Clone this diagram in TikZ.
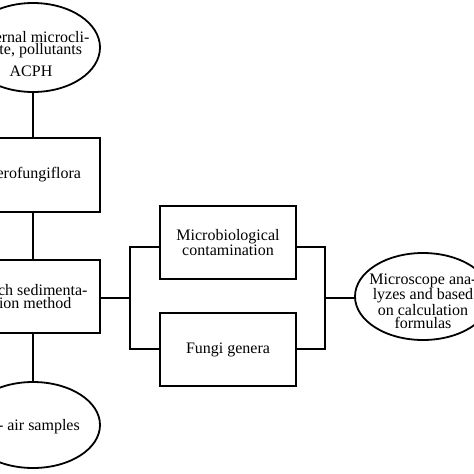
\documentclass[tikz,border=0pt]{standalone}
\usepackage{fontspec}
\setmainfont{Liberation Serif}
\usetikzlibrary{shapes.geometric}
\begin{document}
\begin{tikzpicture}[x=1pt,y=-1pt,
  conn/.style={line width=1.8pt, line cap=rect},
  boxnode/.style={draw, line width=1.8pt, rectangle, inner sep=0pt, align=center,
     font=\fontsize{16}{12.5}\selectfont},
  ellnode/.style={draw, line width=1.8pt, ellipse, inner sep=0pt, align=center,
     font=\fontsize{16}{12.5}\selectfont},
  txt/.style={inner sep=0pt, align=center, font=\fontsize{16}{12.5}\selectfont}]
\useasboundingbox (0,0) rectangle (474,474);
\clip (0,0) rectangle (474,474);
\fill[white] (0,0) rectangle (474,474);
% left column
\node[ellnode, minimum width=134pt, minimum height=89pt] (e1) at (33,47.5) {};
\node[txt] (t1) at (31,54) {External microcli-\\mate, pollutants\\[7pt]ACPH};
\node[boxnode, minimum width=134pt, minimum height=74pt] (b1) at (33,175) {Aerofungiflora};
\node[boxnode, minimum width=134pt, minimum height=73pt] (b2) at (33,296.5) {Koch sedimenta-\\tion method};
\node[ellnode, minimum width=134pt, minimum height=86pt] (e2) at (33,425) {};
\node[txt, anchor=east] (t2) at (80,427) {- air samples};
% middle column
\node[boxnode, minimum width=136pt, minimum height=73pt] (mc) at (228,242.5) {Microbiological\\contamination};
\node[boxnode, minimum width=136pt, minimum height=73pt] (fg) at (228,349.5) {Fungi genera};
% right ellipse
\node[ellnode, minimum width=136pt, minimum height=87pt] (e3) at (423,296.5) {};
\node[txt] (t3) at (423,301) {Microscope ana-\\lyzes and based\\on calculation\\formulas};
% junctions
\coordinate (jl) at (130,298);
\coordinate (jlt) at (130,247);
\coordinate (jlb) at (130,349);
\coordinate (jr) at (325,298);
\coordinate (jrt) at (325,247);
\coordinate (jrb) at (325,349);
% connectors
\draw[conn] (e1.south) -- (b1.north);
\draw[conn] (b1.south) -- (b2.north);
\draw[conn] (b2.south) -- (e2.north);
\draw[conn] (b2.east |- jl) -- (jl);
\draw[conn, line cap=butt] (mc.west |- jlt) -- (jlt) -- (jlb) -- (fg.west |- jlb);
\draw[conn, line cap=butt] (mc.east |- jrt) -- (jrt) -- (jrb) -- (fg.east |- jrb);
\draw[conn] (jr) -- (e3.west |- jr);
\end{tikzpicture}
\end{document}
